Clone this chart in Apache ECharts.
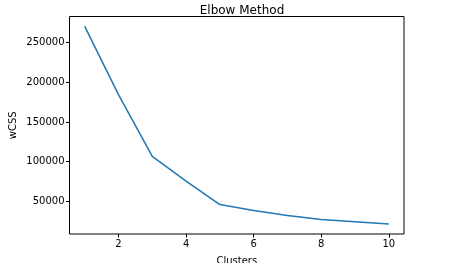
<!DOCTYPE html>
<html>
<head>
<meta charset="utf-8">
<script src="https://cdn.jsdelivr.net/npm/echarts@6/dist/echarts.min.js"></script>
<style>html,body{margin:0;padding:0;background:#fff;}#c{width:453px;height:263px;}</style>
</head>
<body>
<div id="c"></div>
<script>
const clusters = [1, 2, 3, 4, 5, 6, 7, 8, 9, 10];
const wcss = [270400, 184500, 106600, 75500, 45900, 38400, 32100, 27100, 24250, 21300];
const xTicks = [2, 4, 6, 8, 10];
const yTicks = [50000, 100000, 150000, 200000, 250000];

const xMinD = Math.min(...clusters), xMaxD = Math.max(...clusters);
const yMinD = Math.min(...wcss), yMaxD = Math.max(...wcss);
const xPad = (xMaxD - xMinD) * 0.05, yPad = (yMaxD - yMinD) * 0.05;

const font = 'DejaVu Sans';
const chart = echarts.init(document.getElementById('c'), null, {renderer: 'canvas'});
chart.setOption({
  animation: false,
  backgroundColor: '#fff',
  title: {
    text: 'Elbow Method', left: 237, top: 0, textAlign: 'center',
    textStyle: {fontFamily: font, fontSize: 12, fontWeight: 'normal', color: '#000'}
  },
  grid: {left: 69.5, right: 49, top: 16.5, bottom: 29, containLabel: false, outerBoundsMode: 'none',
    show: true, borderColor: '#000', borderWidth: 1, backgroundColor: 'transparent'},
  xAxis: {
    type: 'value', min: xMinD - xPad, max: xMaxD + xPad,
    name: 'Clusters', nameLocation: 'middle', nameGap: 22, nameMoveOverlap: false,
    nameTextStyle: {fontFamily: font, fontSize: 10, color: '#000'},
    axisLine: {show: false},
    axisTick: {show: true, inside: false, length: 3.5, lineStyle: {color: '#000'}, customValues: xTicks},
    axisLabel: {fontFamily: font, fontSize: 10, color: '#000', margin: 5, customValues: xTicks,
      formatter: v => String(v)},
    splitLine: {show: false}
  },
  yAxis: {
    type: 'value', min: yMinD - yPad, max: yMaxD + yPad,
    name: 'wCSS', nameLocation: 'middle', nameGap: 51, nameRotate: 90, nameMoveOverlap: false,
    nameTextStyle: {fontFamily: font, fontSize: 10, color: '#000'},
    axisLine: {show: false},
    axisTick: {show: true, inside: false, length: 3.5, lineStyle: {color: '#000'}, customValues: yTicks},
    axisLabel: {fontFamily: font, fontSize: 10, color: '#000', margin: 5, customValues: yTicks,
      formatter: v => String(v)},
    splitLine: {show: false}
  },
  series: [{
    type: 'line',
    data: clusters.map((c, i) => [c, wcss[i]]),
    showSymbol: false,
    lineStyle: {color: '#1f77b4', width: 1.5},
    itemStyle: {color: '#1f77b4'}
  }]
});
</script>
</body>
</html>
